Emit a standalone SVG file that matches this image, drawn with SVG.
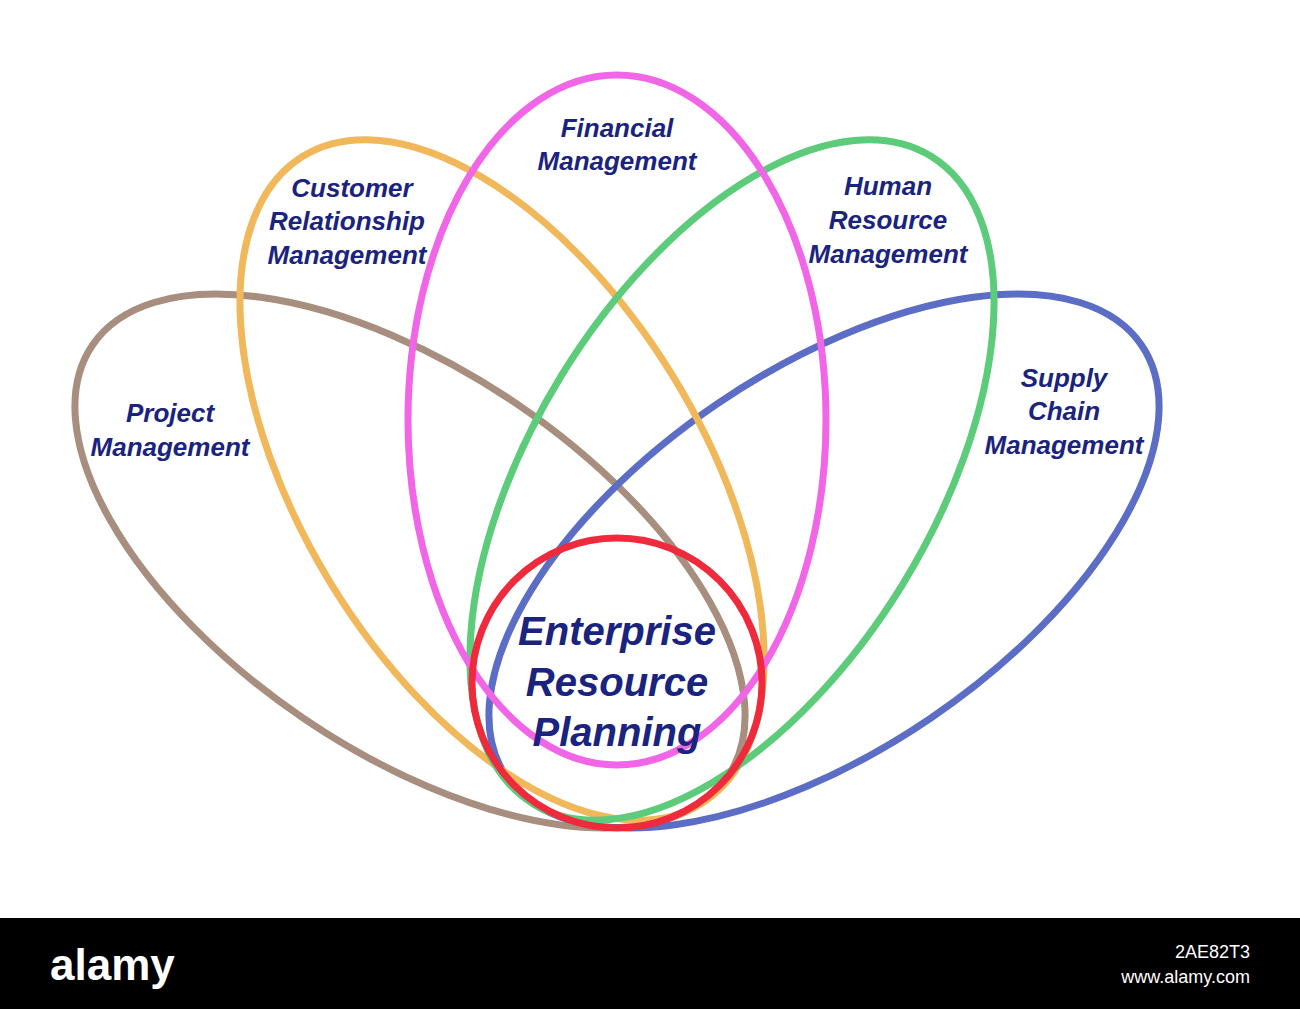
<svg xmlns="http://www.w3.org/2000/svg" width="1300" height="1009" viewBox="0 0 1300 1009">
<style>
.e{fill:none;stroke-width:7}
.t{font-family:"Liberation Sans",Arial,sans-serif;font-style:italic;font-weight:bold;fill:#1a237e;font-size:26px;text-anchor:middle}
.big{font-size:40px}
</style>
<rect width="1300" height="1009" fill="#fff"/>
<g id="connectors"></g>
<g id="project"><ellipse class="e" stroke="#a88e7e" cx="410" cy="561" rx="384" ry="190" transform="rotate(34.2 410 561)"/></g>
<g id="supply"><ellipse class="e" stroke="#5b6dc4" cx="824" cy="561" rx="384" ry="190" transform="rotate(-34.2 824 561)"/></g>
<g id="crm"><ellipse class="e" stroke="#f0b85a" cx="502" cy="480" rx="380" ry="200" transform="rotate(58.4 502 480)"/></g>
<g id="hr"><ellipse class="e" stroke="#5ccb7a" cx="732" cy="480" rx="380" ry="200" transform="rotate(-58.4 732 480)"/></g>
<g id="financial"><ellipse class="e" stroke="#f066e6" cx="617" cy="420" rx="209" ry="345"/></g>
<g id="erp"><circle class="e" stroke="#ee2a3c" cx="617" cy="683" r="145"/>
<text class="t big" x="617" y="645">Enterprise</text><text class="t big" x="617" y="696">Resource</text><text class="t big" x="617" y="746">Planning</text></g>
<g id="labels">
<text class="t" x="617" y="137">Financial</text><text class="t" x="617" y="170">Management</text>
<text class="t" x="352" y="197">Customer</text><text class="t" x="347" y="230">Relationship</text><text class="t" x="347" y="264">Management</text>
<text class="t" x="888" y="195">Human</text><text class="t" x="888" y="229">Resource</text><text class="t" x="888" y="263">Management</text>
<text class="t" x="170" y="422">Project</text><text class="t" x="170" y="456">Management</text>
<text class="t" x="1064" y="387">Supply</text><text class="t" x="1064" y="420">Chain</text><text class="t" x="1064" y="454">Management</text>
</g>
<g id="watermark"><rect x="0" y="918" width="1300" height="91" fill="#000"/>
<text x="50" y="980" font-family="Liberation Sans,Arial,sans-serif" font-size="44" font-weight="bold" fill="#fff">alamy</text>
<text x="1250" y="958" font-family="Liberation Sans,Arial,sans-serif" font-size="18" fill="#fff" text-anchor="end">2AE82T3</text>
<text x="1250" y="983" font-family="Liberation Sans,Arial,sans-serif" font-size="18" fill="#fff" text-anchor="end">www.alamy.com</text></g>
</svg>
